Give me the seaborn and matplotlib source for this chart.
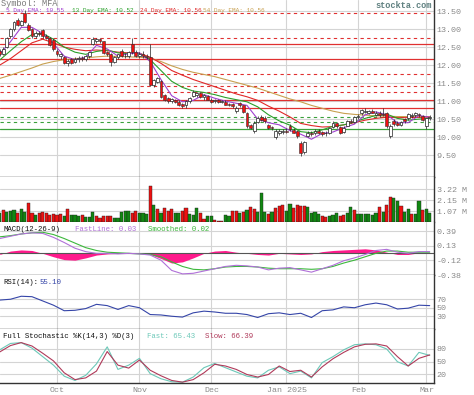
import numpy as np
import pandas as pd
import seaborn as sns
import matplotlib.pyplot as plt

sns.set_theme(style="white")
plt.rcParams['font.family'] = ['Liberation Mono', 'DejaVu Sans Mono']

# trading days Sep 9 2024 - Mar 4 2025
holidays = ['2024-11-28', '2024-12-25', '2025-01-01', '2025-01-09', '2025-01-20', '2025-02-17']
days = pd.bdate_range('2024-09-09', '2025-03-04')
days = days[~days.isin(pd.to_datetime(holidays))]

opens = [12.38, 12.30, 12.50, 12.80, 13.00, 13.26, 13.12, 13.45, 13.12, 13.00,
         12.80, 12.90, 12.98, 12.80, 12.74, 12.70, 12.40, 12.24, 12.22, 12.06,
         12.16, 12.10, 12.16, 12.20, 12.16, 12.24, 12.60, 12.66, 12.72, 12.66,
         12.36, 12.30, 12.10, 12.22, 12.40, 12.26, 12.24, 12.60, 12.36, 12.26,
         12.32, 12.24, 12.22, 11.46, 11.54, 11.56, 11.16, 11.08, 11.00, 11.04,
         10.98, 10.92, 10.88, 11.00, 11.14, 11.16, 11.22, 11.12, 11.14, 11.04,
         11.00, 11.02, 10.98, 10.98, 10.92, 10.92, 10.72, 10.94, 10.88, 10.68,
         10.34, 10.16, 10.42, 10.56, 10.54, 10.34, 10.28, 10.00, 10.12, 10.14,
         10.18, 10.32, 10.20, 10.18, 9.84, 9.58, 10.04, 10.12, 10.10, 10.16,
         10.14, 10.10, 10.12, 10.28, 10.40, 10.28, 10.14, 10.32, 10.44, 10.42,
         10.56, 10.66, 10.70, 10.68, 10.72, 10.62, 10.68, 10.64, 10.66, 10.02,
         10.46, 10.40, 10.34, 10.50, 10.52, 10.58, 10.60, 10.64, 10.58, 10.30,
         10.52]
highs = [12.45, 12.50, 12.78, 13.04, 13.24, 13.30, 13.26, 13.52, 13.16, 13.04,
         12.94, 12.96, 13.00, 12.86, 12.78, 12.74, 12.44, 12.34, 12.26, 12.16,
         12.20, 12.22, 12.24, 12.26, 12.28, 12.38, 12.78, 12.76, 12.76, 12.68,
         12.40, 12.34, 12.24, 12.32, 12.44, 12.34, 12.38, 12.76, 12.42, 12.36,
         12.38, 12.30, 12.60, 11.62, 11.68, 11.60, 11.20, 11.10, 11.08, 11.06,
         11.02, 10.96, 11.04, 11.12, 11.30, 11.26, 11.26, 11.20, 11.18, 11.08,
         11.06, 11.06, 11.04, 11.02, 10.96, 10.96, 10.86, 10.98, 10.90, 10.70,
         10.36, 10.44, 10.58, 10.60, 10.58, 10.36, 10.32, 10.22, 10.22, 10.22,
         10.24, 10.36, 10.24, 10.20, 9.88, 9.90, 10.16, 10.18, 10.22, 10.22,
         10.18, 10.16, 10.26, 10.44, 10.42, 10.30, 10.30, 10.48, 10.50, 10.58,
         10.64, 10.78, 10.80, 10.76, 10.78, 10.72, 10.72, 10.82, 10.70, 10.36,
         10.50, 10.44, 10.44, 10.54, 10.66, 10.66, 10.70, 10.68, 10.62, 10.54,
         10.60]
lows = [12.25, 12.28, 12.48, 12.76, 12.96, 13.08, 13.08, 13.16, 12.94, 12.76,
        12.76, 12.80, 12.76, 12.72, 12.52, 12.40, 12.26, 12.18, 12.04, 11.98,
        12.02, 12.06, 12.10, 12.12, 12.12, 12.20, 12.56, 12.62, 12.62, 12.30,
        12.24, 11.98, 12.06, 12.18, 12.22, 12.20, 12.20, 12.32, 12.22, 12.20,
        12.20, 12.16, 11.42, 11.40, 11.50, 11.08, 11.00, 10.96, 10.94, 10.96,
        10.86, 10.82, 10.82, 10.96, 11.10, 11.12, 11.08, 11.04, 11.02, 10.96,
        10.96, 10.94, 10.94, 10.88, 10.86, 10.82, 10.66, 10.84, 10.66, 10.26,
        10.22, 10.10, 10.40, 10.44, 10.40, 10.22, 10.20, 9.96, 10.06, 10.08,
        10.10, 10.18, 10.10, 9.98, 9.48, 9.54, 10.00, 10.04, 10.06, 10.08,
        10.04, 10.04, 10.08, 10.24, 10.26, 10.08, 10.10, 10.30, 10.38, 10.40,
        10.50, 10.62, 10.66, 10.64, 10.66, 10.58, 10.56, 10.58, 10.26, 9.98,
        10.32, 10.30, 10.30, 10.40, 10.48, 10.54, 10.56, 10.56, 10.44, 10.22,
        10.48]
closes = [12.30, 12.46, 12.74, 13.00, 13.20, 13.12, 13.22, 13.20, 12.98, 12.80,
          12.90, 12.86, 12.80, 12.76, 12.56, 12.44, 12.30, 12.30, 12.06, 12.12,
          12.06, 12.18, 12.20, 12.16, 12.24, 12.36, 12.72, 12.72, 12.66, 12.34,
          12.30, 12.10, 12.22, 12.30, 12.26, 12.24, 12.36, 12.36, 12.26, 12.32,
          12.24, 12.22, 11.46, 11.58, 11.64, 11.12, 11.04, 11.00, 11.06, 10.98,
          10.90, 10.86, 11.00, 11.08, 11.24, 11.22, 11.10, 11.16, 11.04, 10.98,
          11.02, 10.98, 11.00, 10.90, 10.90, 10.86, 10.82, 10.88, 10.70, 10.30,
          10.26, 10.40, 10.54, 10.48, 10.44, 10.26, 10.24, 10.18, 10.16, 10.18,
          10.14, 10.22, 10.12, 10.02, 9.56, 9.86, 10.12, 10.08, 10.18, 10.12,
          10.08, 10.12, 10.24, 10.40, 10.30, 10.12, 10.26, 10.46, 10.42, 10.56,
          10.58, 10.74, 10.72, 10.72, 10.68, 10.68, 10.60, 10.62, 10.30, 10.32,
          10.36, 10.34, 10.42, 10.44, 10.64, 10.62, 10.66, 10.60, 10.48, 10.52,
          10.56]
# volume in millions, and whether the volume bar is green (1) or red (0)
volumes = [0.87, 1.17, 0.95, 1.10, 1.17, 0.87, 1.30, 0.95, 1.90, 0.87,
           0.67, 0.90, 0.97, 0.87, 0.73, 0.80, 0.73, 0.80, 0.57, 1.23,
           0.67, 0.67, 0.57, 0.67, 0.50, 0.50, 0.95, 0.57, 0.40, 0.57,
           0.57, 0.57, 0.43, 0.43, 1.00, 1.10, 1.10, 0.87, 1.10, 0.87,
           0.85, 0.80, 3.55, 1.70, 1.27, 0.87, 1.33, 1.10, 1.23, 0.87,
           0.90, 1.10, 1.40, 0.83, 0.73, 1.40, 0.90, 0.33, 0.57, 0.57,
           0.17, 0.13, 0.05, 0.67, 0.57, 1.07, 1.07, 0.90, 1.00, 1.17,
           1.43, 1.30, 1.00, 2.83, 1.00, 0.77, 1.00, 1.33, 1.60, 1.70,
           1.03, 1.77, 1.37, 1.63, 1.57, 1.57, 1.47, 0.90, 1.00, 0.77,
           0.57, 0.50, 0.60, 0.67, 0.87, 0.63, 0.70, 0.87, 1.43, 1.20,
           0.80, 0.80, 0.80, 0.80, 0.73, 0.90, 1.47, 0.93, 1.70, 2.43,
           2.37, 2.10, 1.57, 1.00, 1.23, 0.77, 0.77, 2.10, 1.17, 1.30,
           0.87]
vol_up = [1, 0, 1, 1, 1, 0, 1, 1, 0, 0,
          1, 0, 0, 0, 0, 0, 0, 0, 1, 0,
          1, 1, 1, 0, 1, 1, 1, 0, 0, 0,
          0, 0, 1, 1, 1, 1, 1, 0, 0, 1,
          1, 1, 0, 1, 0, 1, 0, 0, 0, 1,
          1, 0, 0, 1, 1, 1, 0, 0, 1, 1,
          0, 0, 0, 1, 1, 0, 0, 1, 0, 1,
          0, 0, 1, 1, 1, 0, 1, 0, 0, 0,
          1, 1, 0, 0, 0, 0, 1, 1, 1, 1,
          0, 0, 1, 1, 1, 0, 0, 1, 1, 0,
          1, 1, 1, 1, 1, 1, 0, 1, 0, 0,
          1, 1, 0, 1, 1, 0, 1, 1, 0, 1,
          1]

# indicator readings, taken every third trading day
ind_idx = list(range(0, 121, 3))
ema5 = [12.30, 12.65, 13.05, 13.05, 12.88, 12.60, 12.25, 12.15, 12.22, 12.55,
        12.45, 12.25, 12.32, 12.34, 12.10, 11.60, 11.15, 10.98, 11.02, 11.18,
        11.08, 11.00, 10.94, 10.88, 10.50, 10.40, 10.34, 10.18, 10.08, 9.94,
        10.10, 10.14, 10.26, 10.36, 10.62, 10.70, 10.62, 10.40, 10.40, 10.60, 10.55]
ema13 = [12.14, 12.40, 12.65, 12.85, 12.88, 12.72, 12.50, 12.36, 12.30, 12.38,
         12.42, 12.34, 12.32, 12.33, 12.15, 11.85, 11.55, 11.38, 11.28, 11.24,
         11.18, 11.10, 11.04, 10.98, 10.84, 10.62, 10.45, 10.33, 10.15, 10.12,
         10.20, 10.30, 10.34, 10.42, 10.52, 10.60, 10.64, 10.52, 10.47, 10.50, 10.52]
ema24 = [12.00, 12.18, 12.40, 12.62, 12.72, 12.62, 12.50, 12.44, 12.40, 12.42,
         12.40, 12.36, 12.34, 12.33, 12.22, 12.05, 11.85, 11.72, 11.60, 11.50,
         11.40, 11.30, 11.20, 11.12, 11.02, 10.86, 10.72, 10.56, 10.38, 10.32,
         10.28, 10.29, 10.34, 10.40, 10.47, 10.52, 10.55, 10.54, 10.54, 10.55, 10.56]
ema54 = [11.63, 11.72, 11.82, 11.92, 12.03, 12.10, 12.15, 12.18, 12.20, 12.23,
         12.25, 12.24, 12.23, 12.22, 12.19, 12.10, 11.98, 11.88, 11.80, 11.74,
         11.68, 11.60, 11.52, 11.44, 11.36, 11.26, 11.16, 11.06, 10.98, 10.88,
         10.80, 10.72, 10.66, 10.63, 10.61, 10.59, 10.58, 10.57, 10.57, 10.56, 10.56]
macd_fast = [0.26, 0.30, 0.34, 0.36, 0.35, 0.28, 0.19, 0.09, 0.03, 0.00,
             0.00, -0.01, 0.00, -0.01, -0.03, -0.12, -0.30, -0.36, -0.35, -0.31,
             -0.27, -0.23, -0.21, -0.22, -0.24, -0.29, -0.26, -0.25, -0.29, -0.33,
             -0.27, -0.21, -0.13, -0.08, -0.02, 0.05, 0.07, 0.02, 0.00, 0.03, 0.03]
macd_smooth = [0.29, 0.31, 0.34, 0.36, 0.37, 0.33, 0.26, 0.18, 0.10, 0.05,
               0.02, 0.01, 0.00, -0.01, -0.02, -0.06, -0.15, -0.23, -0.28, -0.29,
               -0.27, -0.24, -0.23, -0.23, -0.24, -0.26, -0.27, -0.27, -0.27, -0.28,
               -0.27, -0.23, -0.17, -0.12, -0.06, 0.00, 0.04, 0.04, 0.02, 0.02, 0.02]
macd_hist = [-0.02, 0.04, 0.06, 0.05, 0.00, -0.06, -0.11, -0.12, -0.08, -0.03,
             -0.01, 0.00, 0.00, 0.00, -0.02, -0.09, -0.17, -0.15, -0.08, 0.00,
             0.04, 0.05, 0.02, 0.00, -0.02, -0.03, 0.00, -0.01, -0.02, -0.01,
             0.03, 0.05, 0.06, 0.07, 0.08, 0.06, 0.02, -0.02, -0.02, 0.01, 0.01]
rsi = [68, 70, 77, 76, 66, 56, 43, 44, 48, 58,
       55, 46, 55, 50, 34, 33, 30, 28, 38, 42,
       40, 37, 37, 34, 27, 36, 38, 34, 37, 27,
       43, 45, 52, 50, 57, 61, 57, 47, 49, 56, 55]
stoch_fast = [78, 93, 95, 82, 62, 42, 16, 6, 18, 45,
              85, 32, 42, 58, 22, 10, 3, 2, 14, 36,
              46, 36, 26, 16, 12, 30, 38, 22, 28, 12,
              48, 62, 78, 90, 92, 90, 80, 50, 40, 72, 65]
stoch_slow = [73, 88, 95, 87, 70, 52, 24, 8, 12, 28,
              74, 42, 35, 54, 30, 17, 6, 2, 8, 24,
              44, 40, 32, 20, 14, 20, 40, 27, 30, 14,
              38, 57, 72, 85, 91, 92, 87, 62, 40, 58, 66]

# support / resistance levels
res_solid = [12.58, 12.16, 11.03, 10.82]
res_dashed = [13.46, 12.74, 11.75, 11.42, 11.26]
sup_solid = [10.23]
sup_dashed = [10.57, 10.42]

n = len(closes)
x = np.arange(n)
o, h, l, c = map(np.array, (opens, highs, lows, closes))

# first trading day of each month -> gridlines / labels
month_pos, month_lab = [], []
for m in ['2024-10', '2024-11', '2024-12', '2025-01', '2025-02', '2025-03']:
    i = int(np.argmax(days.strftime('%Y-%m') == m))
    month_pos.append(i)
    month_lab.append('Jan 2025' if m == '2025-01' else days[i].strftime('%b'))

GRID = '#d4d4d4'
DARK = '#333333'
TICK = '#8a8a8a'
FS = 6

fig = plt.figure(figsize=(4.74, 3.95), dpi=100)
W = 434 / 474


def panel(top, bottom):
    ax = fig.add_axes([0, 1 - bottom / 395, W, (bottom - top) / 395])
    ax.set_facecolor('white')
    for s in ax.spines.values():
        s.set_visible(False)
    ax.spines['right'].set_visible(True)
    ax.spines['right'].set_color(DARK)
    ax.spines['right'].set_linewidth(1.0)
    ax.yaxis.tick_right()
    ax.tick_params(axis='y', length=0, pad=2, labelsize=FS, labelcolor=TICK)
    ax.set_xticks([])
    ax.set_xlim(0.08, 121.2)
    for p in month_pos:
        ax.axvline(p, color=GRID, lw=0.8, zorder=0)
    return ax


def bottom_line(ax):
    ax.spines['bottom'].set_visible(True)
    ax.spines['bottom'].set_color(DARK)
    ax.spines['bottom'].set_linewidth(1.0)


# ---- price panel ----
ax_p = panel(0, 177)
bottom_line(ax_p)
ax_p.set_ylim(8.89, 13.81)
pt = [9.5, 10.0, 10.5, 11.0, 11.5, 12.0, 12.5, 13.0, 13.5]
ax_p.set_yticks(pt)
ax_p.set_yticklabels([f'{v:.2f}' for v in pt])
for v in pt:
    ax_p.axhline(v, color=GRID, lw=0.8, zorder=0)
for v in res_solid:
    ax_p.axhline(v, color='#e03030', lw=0.9, zorder=1)
for v in res_dashed:
    ax_p.axhline(v, color='#e03030', lw=0.8, ls=(0, (3, 3)), zorder=1)
for v in sup_solid:
    ax_p.axhline(v, color='#3aa03a', lw=0.9, zorder=1)
for v in sup_dashed:
    ax_p.axhline(v, color='#3aa03a', lw=0.8, ls=(0, (3, 3)), zorder=1)

ema_cols = ['#a040d0', '#2aa02a', '#e02828', '#c8a050']
for series, col in zip([ema54, ema24, ema13, ema5], ema_cols[::-1]):
    sns.lineplot(x=ind_idx, y=series, color=col, lw=0.8, ax=ax_p, legend=False, zorder=2)

body_lo = np.minimum(o, c)
body_h = np.maximum(np.abs(c - o), 0.02)
up = c >= o
ax_p.vlines(x, l, h, color='#222222', lw=0.5, zorder=3)
ax_p.bar(x[up], body_h[up], bottom=body_lo[up], width=0.8, color='white',
         edgecolor='#222222', linewidth=0.5, zorder=4)
ax_p.bar(x[~up], body_h[~up], bottom=body_lo[~up], width=0.8, color='#ee1111',
         edgecolor='#333333', linewidth=0.4, zorder=4)

# ---- volume panel ----
ax_v = panel(177, 222)
ax_v.set_ylim(0, 4.4)
vt = [1.07, 2.15, 3.22]
ax_v.set_yticks(vt)
ax_v.set_yticklabels([f'{v:.2f} M' for v in vt])
for v in vt:
    ax_v.axhline(v, color=GRID, lw=0.8, zorder=0)
ax_v.axhline(0, color='#bbbbbb', lw=0.8, zorder=0)
vcols = ['#118811' if u else '#ee1111' for u in vol_up]
ax_v.bar(x, volumes, width=0.9, color=vcols, edgecolor='#222222', linewidth=0.3, zorder=2)

# ---- MACD panel ----
ax_m = panel(222, 275)
bottom_line(ax_m)
ax_m.set_ylim(-0.38, 0.55)
mt = [0.39, 0.13, -0.12, -0.38]
ax_m.set_yticks(mt)
ax_m.set_yticklabels([f'{v:.2f}' for v in mt])
for v in mt[:-1]:
    ax_m.axhline(v, color=GRID, lw=0.8, zorder=0)
ax_m.fill_between(ind_idx, 0, macd_hist, color='#ff1a8c', lw=0, zorder=1)
ax_m.axhline(0, color='#555555', lw=0.8, zorder=2)
sns.lineplot(x=ind_idx, y=macd_smooth, color='#3cb83c', lw=0.8, ax=ax_m, legend=False, zorder=3)
sns.lineplot(x=ind_idx, y=macd_fast, color='#b070d8', lw=0.8, ax=ax_m, legend=False, zorder=3)

# ---- RSI panel ----
ax_r = panel(275, 329)
bottom_line(ax_r)
ax_r.set_ylim(0, 127)
rt = [30, 50, 70]
ax_r.set_yticks(rt)
ax_r.set_yticklabels([str(v) for v in rt])
for v in rt:
    ax_r.axhline(v, color=GRID, lw=0.8, zorder=0)
sns.lineplot(x=ind_idx, y=rsi, color='#3545a8', lw=0.8, ax=ax_r, legend=False)

# ---- Stochastic panel ----
ax_s = panel(329, 383)
bottom_line(ax_s)
ax_s.set_ylim(0, 127)
st = [20, 50, 80]
ax_s.set_yticks(st)
ax_s.set_yticklabels([str(v) for v in st])
for v in st:
    ax_s.axhline(v, color=GRID, lw=0.8, zorder=0)
sns.lineplot(x=ind_idx, y=stoch_fast, color='#6cc8b8', lw=0.8, ax=ax_s, legend=False)
sns.lineplot(x=ind_idx, y=stoch_slow, color='#b03a5a', lw=0.8, ax=ax_s, legend=False)

for ax in (ax_p, ax_v, ax_m, ax_r, ax_s):
    ax.set_xlabel('')
    ax.set_ylabel('')


def ftxt(px, py, s, color, size=5.3, ha='left', **kw):
    fig.text(px / 474, 1 - py / 395, s, color=color, fontsize=size, ha=ha, va='center', **kw)


# month labels
for p, lab in zip(month_pos, month_lab):
    px = (p + 0.08) * 3.583
    ftxt(px, 391, lab, TICK, size=FS, ha='center')

ftxt(1, 4, 'Symbol: MFA', '#7a7a7a', size=6.2)
ftxt(6, 10.5, '5 Day EMA: 10.55', ema_cols[0], size=4.4)
ftxt(72, 10.5, '13 Day EMA: 10.52', ema_cols[1], size=4.4)
ftxt(140, 10.5, '24 Day EMA: 10.56', ema_cols[2], size=4.4)
ftxt(203, 10.5, '54 Day EMA: 10.56', ema_cols[3], size=4.4)
ftxt(432, 5, 'stockta.com', '#5f8080', size=6.2, ha='right', fontweight='bold')

ftxt(3, 229.5, 'MACD(12-26-9)', '#111111')
ftxt(75, 229.5, 'FastLine: 0.03', '#b070d8')
ftxt(148, 229.5, 'Smoothed: 0.02', '#3cb83c')
ftxt(3, 283, 'RSI(14):', '#111111')
ftxt(39, 283, '55.10', '#3545a8')
ftxt(3, 337, 'Full Stochastic %K(14,3) %D(3)', '#111111')
ftxt(147, 337, 'Fast: 65.43', '#6cc8b8')
ftxt(205, 337, 'Slow: 66.39', '#b03a5a')

fig.savefig('out.png', dpi=100)
